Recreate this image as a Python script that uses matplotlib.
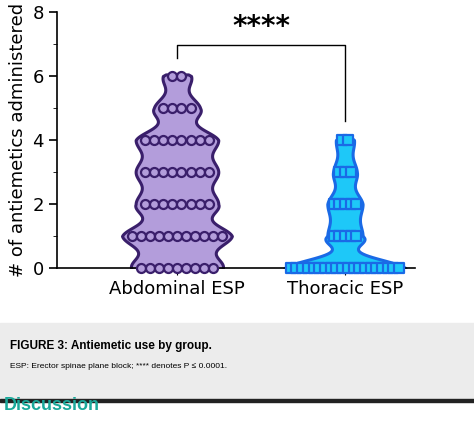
import numpy as np
import matplotlib
matplotlib.use("Agg")
import matplotlib.pyplot as plt
from matplotlib.patches import Rectangle

groups = ["Abdominal ESP", "Thoracic ESP"]
levels = [0, 1, 2, 3, 4, 5, 6]
abd_counts = [9, 11, 8, 8, 8, 4, 2]
tho_counts = [20, 5, 5, 3, 2, 0, 0]

fig = plt.figure(figsize=(4.74, 4.22), dpi=100)
fig.patches.append(Rectangle((0, 1-398/422), 1, 75/422, transform=fig.transFigure,
                             color="#ececec", zorder=0))
fig.patches.append(Rectangle((0, 1-402/422), 1, 3/422, transform=fig.transFigure,
                             color="#222222", zorder=0))
ax = fig.add_axes([57/474, 1-268/422, 358/474, 256/422])

def outline(counts, sp, pad, lv):
    ys, ws = [], []
    top = max(l for l, c in zip(lv, counts) if c > 0)
    for i in range(top):
        w0 = counts[i]*sp/2 + pad
        w1 = counts[i+1]*sp/2 + pad
        t = np.linspace(0, 1, 30)
        # narrowing between levels
        mid = min(w0, w1)*0.85
        w = np.where(t < 0.5, w0 + (mid-w0)*(1-np.cos(np.pi*t*2))/2*0 + (mid-w0)*np.sin(np.pi*t)**2 if False else 0, 0)
        w = w0*(1-t) + w1*t - (0.5*(w0+w1)-mid)*np.sin(np.pi*t)**2
        ys.append(lv[i]+t); ws.append(w)
    ys = np.concatenate(ys); ws = np.concatenate(ws)
    ys = np.concatenate([[-0.05], ys, [top+0.05]])
    ws = np.concatenate([[ws[0]], ws, [ws[-1]*0.8]])
    return ys, ws

def draw(xc, counts, sp, pad, fc, ec, marker):
    ys, ws = outline(counts, sp, pad, levels)
    ax.fill_betweenx(ys, xc-ws, xc+ws, facecolor=fc, edgecolor=ec, lw=2.2, zorder=2)
    for l, c in zip(levels, counts):
        if c == 0: continue
        xs = xc + (np.arange(c) - (c-1)/2)*sp
        ax.scatter(xs, [l]*c, s=42, marker=marker, facecolor=fc, edgecolor=ec,
                   linewidth=1.6, zorder=3, clip_on=False)

draw(0, abd_counts, 0.054, 0.03, "#b39ddb", "#3a1f6b", "o")
draw(1, tho_counts, 0.034, 0.02, "#1ec8f8", "#1a6ae6", "s")

ax.plot([0, 0, 1, 1], [6.56, 6.97, 6.97, 4.6], color="black", lw=1)
ax.text(0.5, 7.1, "****", ha="center", va="bottom", fontsize=20, fontweight="bold")

ax.set_xlim(-0.714, 1.417)
ax.set_ylim(0, 8)
ax.set_yticks([0, 2, 4, 6, 8])
ax.set_yticks([1, 3, 5, 7], minor=True)
ax.set_xticks([0, 1])
ax.set_xticklabels(groups, fontsize=13)
ax.tick_params(axis="y", labelsize=13, width=1.2, length=6)
ax.tick_params(axis="y", which="minor", length=3)
ax.tick_params(axis="x", length=5)
ax.set_ylabel("# of antiemetics administered", fontsize=13)
for s in ["top", "right"]:
    ax.spines[s].set_visible(False)
for s in ["left", "bottom"]:
    ax.spines[s].set_linewidth(1.2)

fig.text(10/474, 1-346/422, "FIGURE 3: Antiemetic use by group.", fontsize=8.5,
         fontweight="bold", va="center", family="Liberation Sans")
fig.text(10/474, 1-366/422, "ESP: Erector spinae plane block; **** denotes P ≤ 0.0001.",
         fontsize=6, va="center", family="Liberation Sans")
fig.text(4/474, 1-414/422, "Discussion", fontsize=13, fontweight="bold", color="#1aa89a",
         va="bottom", family="Liberation Sans")
fig.savefig("out.png", dpi=100)
